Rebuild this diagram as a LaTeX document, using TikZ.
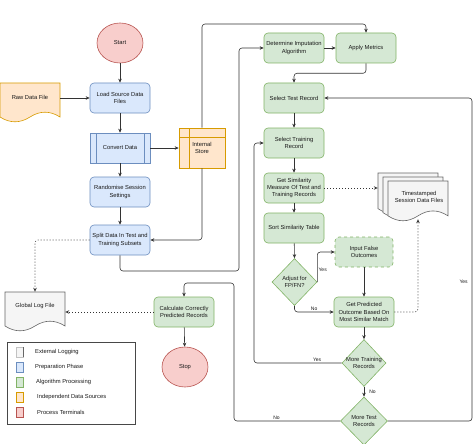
\documentclass[tikz,border=0pt]{standalone}
\usepackage{fontspec}
\setmainfont{Liberation Sans}
\usetikzlibrary{shapes.geometric,arrows.meta,calc}
\definecolor{prepfill}{HTML}{DAE8FC}
\definecolor{prepline}{HTML}{6C8EBF}
\definecolor{algfill}{HTML}{D5E8D4}
\definecolor{algline}{HTML}{82B366}
\definecolor{srcfill}{HTML}{FFE6CC}
\definecolor{srcline}{HTML}{D79B00}
\definecolor{termfill}{HTML}{F8CECC}
\definecolor{termline}{HTML}{B85450}
\definecolor{logfill}{HTML}{F5F5F5}
\definecolor{logline}{HTML}{666666}
\definecolor{flowline}{HTML}{333333}

% document outline with wavy bottom: style, x, y, width, height
\newcommand{\docshape}[5]{%
  \draw[#1] (#2,#3) -- ({#2+#4},#3) -- ({#2+#4},{#3+0.85*#5})
    .. controls ({#2+0.83*#4},{#3+0.69*#5}) and ({#2+0.67*#4},{#3+0.69*#5}) .. ({#2+0.5*#4},{#3+0.85*#5})
    .. controls ({#2+0.33*#4},{#3+1.01*#5}) and ({#2+0.17*#4},{#3+1.01*#5}) .. (#2,{#3+0.85*#5}) -- cycle;}

\begin{document}
\begin{tikzpicture}[x=1pt,y=-1pt,font=\fontsize{5.8}{7.3}\selectfont,text=black!90,
    box/.style={rectangle,rounded corners=4pt,minimum width=60pt,minimum height=30pt,
      inner sep=0.5pt,align=center,line width=0.6pt},
    prep/.style={box,fill=prepfill,draw=prepline},
    alg/.style={box,fill=algfill,draw=algline},
    process/.style={prep,rounded corners=0pt,
      path picture={\draw[prepline,line width=0.6pt]
        ([xshift=6pt]path picture bounding box.north west) -- ([xshift=6pt]path picture bounding box.south west)
        ([xshift=-6pt]path picture bounding box.north east) -- ([xshift=-6pt]path picture bounding box.south east);}},
    store/.style={rectangle,fill=srcfill,draw=srcline,line width=0.6pt,minimum width=46pt,
      minimum height=40pt,inner sep=0.5pt,align=center,
      path picture={\draw[srcline,line width=0.6pt]
        ([xshift=10pt]path picture bounding box.north west) -- ([xshift=10pt]path picture bounding box.south west)
        ([yshift=-9pt]path picture bounding box.north west) -- ([yshift=-9pt]path picture bounding box.north east);}},
    term/.style={ellipse,fill=termfill,draw=termline,line width=0.6pt,minimum width=46pt,
      minimum height=40pt,inner sep=0pt},
    decide/.style={diamond,fill=algfill,draw=algline,line width=0.6pt,inner sep=0pt},
    doctext/.style={inner sep=0pt,minimum width=60pt,minimum height=28pt,align=center},
    srcdoc/.style={fill=srcfill,draw=srcline,line width=0.6pt},
    logdoc/.style={fill=logfill,draw=logline,line width=0.6pt},
    flow/.style={draw=flowline,line width=0.6pt,rounded corners=3pt,-{Stealth[length=4pt,width=3.5pt]}},
    logflow/.style={flow,dash pattern=on 1pt off 2pt,-{Stealth[open,length=4pt,width=3.5pt]}},
    lbl/.style={font=\fontsize{5}{6}\selectfont,inner sep=1pt}]
  \useasboundingbox (0,0) rectangle (474,444);

  % preparation phase
  \node[term] (start) at (120,43) {Start};
  \docshape{srcdoc}{0}{83}{60}{40}
  \node[doctext] (raw) at (30,97) {Raw Data File};
  \node[prep] (load) at (120,98) {Load Source Data\\Files};
  \node[process] (convert) at (120,148) {Convert Data};
  \node[store] (store) at (202,148) {Internal\\Store};
  \node[prep] (rand) at (120,192) {Randomise Session\\Settings};
  \node[prep] (split) at (120,240) {Split Data In Test and\\Training Subsets};

  % logging and end
  \docshape{logdoc}{5}{292}{60}{40}
  \node[doctext] (glog) at (35,306) {Global Log File};
  \node[alg] (calc) at (184,312) {Calculate Correctly\\Predicted Records};
  \node[term] (stop) at (185,367) {Stop};

  % algorithm processing
  \node[alg] (determine) at (294,48) {Determine Imputation\\Algorithm};
  \node[alg] (apply) at (366,48) {Apply Metrics};
  \node[alg] (seltest) at (294,98) {Select Test Record};
  \node[alg] (seltrain) at (294,143) {Select Training\\Record};
  \node[alg] (simil) at (294,188) {Get Similarity\\Measure Of Test and\\Training Records};
  \node[alg] (sort) at (294,228) {Sort Similarity Table};
  \node[decide,minimum width=45pt,minimum height=47pt,
    label={[align=center]center:Adjust for\\FP/FN?}] (adjust) at (294.5,282) {};
  \node[alg,dashed,minimum width=58pt] (input) at (364,252) {Input False\\Outcomes};
  \node[alg] (getpred) at (364,312) {Get Predicted\\Outcome Based On\\Most Similar Match};
  \node[decide,minimum width=44pt,minimum height=47pt,
    label={[align=center]center:More Training\\Records}] (moretrain) at (364,363) {};
  \node[decide,minimum width=47pt,minimum height=48pt,
    label={[align=center]center:More Test\\Records}] (moretest) at (364,421) {};

  % timestamped session files
  \docshape{logdoc}{378}{173}{60}{42}
  \docshape{logdoc}{383}{177}{60}{42}
  \docshape{logdoc}{388}{181}{60}{41}
  \node[inner sep=0pt,minimum width=70pt,minimum height=48pt] (tsf) at (413,197) {};
  \node[align=center,inner sep=0pt] (tsftext) at (419,197) {Timestamped\\Session Data Files};

  % loop turning points
  \coordinate (topline) at (0,24);
  \coordinate (splitturn) at (239,271);
  \coordinate (trainloop) at (254,0);
  \coordinate (testloop) at (472,0);
  \coordinate (noturn) at (234,283);

  % connectors
  \draw[flow] (start) -- (load);
  \draw[flow] (raw.east |- load.west) -- (load.west);
  \draw[flow] (load) -- (convert);
  \draw[flow] (convert) -- (rand);
  \draw[flow] (rand) -- (split);
  \draw[flow] (convert.east) -- (store.west);
  \draw[flow] (store.south) |- (split.east);
  \draw[flow] (store.north) -- (store.north |- topline) -| (apply.north);
  \draw[flow] (split.south) |- (splitturn) |- (determine.west);
  \draw[flow] (determine) -- (apply);
  \draw[flow] (apply.south) -- ++(0,10) -| (seltest.north);
  \draw[flow] (seltest) -- (seltrain);
  \draw[flow] (seltrain) -- (simil);
  \draw[flow] (simil) -- (sort);
  \draw[flow] (sort) -- (adjust.north);
  \draw[logflow] (simil.east) -- (simil.east -| tsf.west);
  \draw[flow] (adjust.east) |- (input.west) node[lbl,pos=0.2,right] (yesA) {Yes};
  \draw[flow] (adjust.south) |- (getpred.west) node[lbl,pos=0.75,above] (noA) {No};
  \draw[flow] (input) -- (getpred);
  \draw[logflow] (getpred.east) -| ([xshift=5pt,yshift=2pt]tsf.south);
  \draw[flow] (getpred) -- (moretrain);
  \draw[flow] (moretrain.west) -- node[lbl,pos=0.28,above] (yesB) {Yes}
    (moretrain.west -| trainloop) |- (seltrain.west);
  \draw[flow] (moretrain) -- (moretest) node[lbl,midway,right,xshift=4pt] (noB) {No};
  \draw[flow] (moretest.east) -- (moretest.east -| testloop) |- (seltest.east)
    node[lbl,pos=0.215,left,xshift=-3pt] (yesC) {Yes};
  \draw[flow] (moretest.west) -| (noturn) node[lbl,pos=0.3,above] (noC) {No} -| (calc.north);
  \draw[logflow] (split.west) -| (glog.north);
  \draw[logflow] (calc.west) -- (calc.west -| glog.east);
  \draw[flow] (calc) -- (stop);

  % legend
  \draw[flowline!90,line width=0.8pt] (7,342) rectangle (135,424);
  \filldraw[fill=logfill,draw=logline!40,line width=0.4pt] (16,347) rectangle (23,357);
  \draw[logline,line width=0.6pt] (23,347) -- (23,357);
  \node[anchor=west,inner sep=0pt] (leglog) at (35,352) {External Logging};
  \filldraw[fill=prepfill,draw=prepline,line width=0.4pt] (16,362) rectangle (23,372);
  \node[anchor=west,inner sep=0pt] (legprep) at (35,367) {Preparation Phase};
  \filldraw[fill=algfill,draw=algline,line width=0.4pt] (16,377) rectangle (23,387);
  \node[anchor=west,inner sep=0pt] (legalg) at (36,382) {Algorithm Processing};
  \filldraw[fill=srcfill,draw=srcline,line width=0.4pt] (16,392) rectangle (23,402);
  \node[anchor=west,inner sep=0pt] (legsrc) at (37,397) {Independent Data Sources};
  \filldraw[fill=termfill,draw=termline,line width=0.4pt] (16,407) rectangle (23,417);
  \node[anchor=west,inner sep=0pt] (legterm) at (37,412) {Process Terminals};
\end{tikzpicture}
\end{document}
